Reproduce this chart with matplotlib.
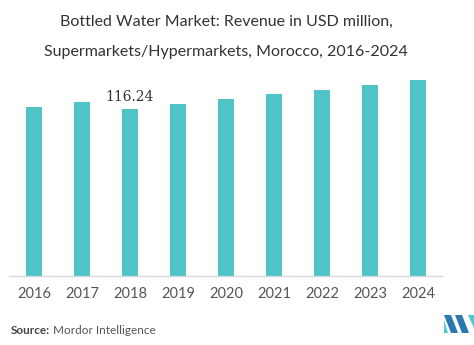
import matplotlib
matplotlib.use("Agg")
import matplotlib.pyplot as plt
from matplotlib.patches import Polygon

years = ["2016", "2017", "2018", "2019", "2020", "2021", "2022", "2023", "2024"]
revenue = [117.4, 120.9, 116.24, 119.5, 122.8, 126.2, 129.2, 132.9, 136.4]
labelled_year = "2018"

W, H = 474, 345
fig = plt.figure(figsize=(W / 100, H / 100), dpi=100)
plt.rcParams['font.family'] = ['Lato', 'DejaVu Sans']

# plot area in pixels: x 9..442, y 60..276
ax = fig.add_axes([9 / W, (H - 276) / H, 433 / W, 216 / H])
x = range(len(years))
ax.bar(x, revenue, width=0.32, color='#50c3c7', zorder=2)
ax.set_xlim(-0.52, 8.5)
ax.set_ylim(0, 150)

i = years.index(labelled_year)
ax.text(i, revenue[i] + 3.5, f"{revenue[i]:.2f}", ha='center', va='bottom',
        fontsize=10, color='#333333', family=['DejaVu Serif'])

for s in ['top', 'right', 'left']:
    ax.spines[s].set_visible(False)
ax.spines['bottom'].set_color('#d8d8d8')
ax.spines['bottom'].set_linewidth(1)
ax.set_yticks([])
ax.set_xticks(list(x))
ax.set_xticklabels(years, fontsize=10.5, color='#555555')
ax.tick_params(axis='x', length=0, pad=8)

fig.text(226 / W, 1 - 22 / H, "Bottled Water Market: Revenue in USD million,",
         ha='center', va='center', fontsize=11.5, color='#333333')
fig.text(226 / W, 1 - 52 / H, "Supermarkets/Hypermarkets, Morocco, 2016-2024",
         ha='center', va='center', fontsize=11.5, color='#333333')

fig.text(11 / W, 1 - 330 / H, "Source:", ha='left', va='center',
         fontsize=8.5, fontweight='bold', color='#444444')
fig.text(53 / W, 1 - 330 / H, "Mordor Intelligence", ha='left', va='center',
         fontsize=8.5, color='#555555')

# small logo mark, bottom right
def px(pts):
    return [(a / W, 1 - b / H) for a, b in pts]

logo = [
    (px([(444, 315), (451, 315), (458, 333), (451, 333)]), '#2a78b0'),
    (px([(444, 320), (448, 333), (444, 333)]), '#4fc8d0'),
    (px([(455, 315), (462, 315), (469, 333), (462, 333)]), '#2a78b0'),
    (px([(462, 315), (468, 315), (474, 328), (474, 315)]), '#4fc8d0'),
]
for pts, c in logo:
    fig.patches.append(Polygon(pts, closed=True, facecolor=c, edgecolor='none',
                               transform=fig.transFigure))

fig.savefig("out.png", dpi=100)
